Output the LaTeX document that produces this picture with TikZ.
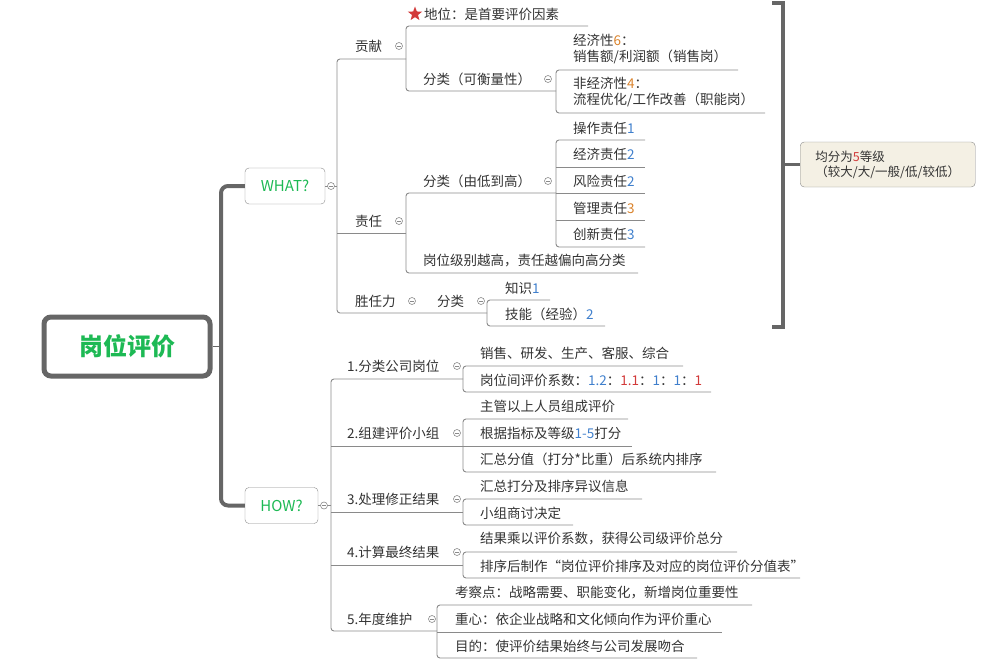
\documentclass[tikz,border=0pt]{standalone}
\usepackage{fontspec}
\setmainfont{Noto Sans CJK SC}
\usetikzlibrary{shapes.geometric}
\definecolor{txtc}{HTML}{333333}
\definecolor{linec}{HTML}{8A8A8A}
\definecolor{darkl}{HTML}{666666}
\definecolor{greenc}{HTML}{1DB954}
\definecolor{bluec}{HTML}{3F7FCC}
\definecolor{orangec}{HTML}{D9822B}
\definecolor{redc}{HTML}{D23A3A}
\definecolor{creamc}{HTML}{F4F0E4}
\newcommand{\nb}[1]{\textcolor{bluec}{#1}}
\newcommand{\no}[1]{\textcolor{orangec}{#1}}
\newcommand{\nr}[1]{\textcolor{redc}{#1}}
\tikzset{
  leaf/.style={anchor=west,inner sep=0pt,text=txtc,font=\fontsize{13.5}{16}\selectfont,align=left},
  branch/.style={draw=linec,line width=0.9pt,rounded corners=3pt},
  topbox/.style={draw=linec,rounded corners=4pt,text=greenc,font=\fontsize{15}{17}\selectfont,minimum height=36pt},
  colp/.pic={\draw[linec,fill=white,line width=0.6pt] (0,0) circle (3.5); \draw[linec,line width=0.6pt] (-2,0) -- (2,0);}
}
\begin{document}
\begin{tikzpicture}[x=1pt,y=-1pt]
\useasboundingbox (0,0) rectangle (1003,661);

% root and main branches
\node[draw=darkl,line width=5pt,rounded corners=7pt,minimum width=166pt,minimum height=59pt,text=greenc,font=\fontsize{24}{28}\selectfont\bfseries] (root) at (127,346.5) {岗位评价};
\node[topbox,minimum width=80pt] (what) at (285,186) {WHAT?};
\node[topbox,minimum width=73pt] (how) at (281.5,505.5) {HOW?};
\draw[darkl,line width=4pt,rounded corners=7pt] (what.west) -- (221,186) -- (221,505.5) -- (how.west);
\draw[darkl,line width=1pt] (root.east) -- (221,346.5);

% WHAT side
\draw[branch] (what.east) -- (337,186);
\draw[branch] (406,59) -- (337,59) -- (337,313) -- (487,313);
\draw[branch] (337,233) -- (406,233);
\pic at (331,186) {colp};

% 贡献
\node[leaf] (gx) at (355,46) {贡献};
\pic at (399,46) {colp};
\draw[branch] (588,26) -- (406,26) -- (406,91) -- (556,91);
\node[star,star points=5,star point ratio=2.4,fill=redc,inner sep=0pt,minimum size=15pt] (st) at (415,14) {};
\node[leaf] (dw) at (424,14) {地位：是首要评价因素};
\node[leaf] (fl1) at (423,79) {分类（可衡量性）};
\pic at (548,79) {colp};
\draw[branch] (738,70) -- (556,70) -- (556,113) -- (765,113);
\node[leaf] (jjx) at (573,49) {经济性\no{6}：\\销售额/利润额（销售岗）};
\node[leaf] (fjjx) at (573,92.5) {非经济性\no{4}：\\流程优化/工作改善（职能岗）};

% 责任
\node[leaf] (zr) at (355,221) {责任};
\pic at (399,221) {colp};
\draw[branch] (556,193) -- (406,193) -- (406,273) -- (638,273);
\node[leaf] (fl2) at (423,181) {分类（由低到高）};
\pic at (548,181) {colp};
\draw[branch] (645,140) -- (556,140) -- (556,247) -- (645,247);
\foreach \y in {167,193,220} \draw[branch] (556,\y) -- (645,\y);
\node[leaf] (r1) at (573,128) {操作责任\nb{1}};
\node[leaf] (r2) at (573,154.5) {经济责任\nb{2}};
\node[leaf] (r3) at (573,181) {风险责任\nb{2}};
\node[leaf] (r4) at (573,208) {管理责任\no{3}};
\node[leaf] (r5) at (573,234.5) {创新责任\nb{3}};
\node[leaf] (gw) at (423,261) {岗位级别越高，责任越偏向高分类};

% 胜任力
\node[leaf] (srl) at (355,301) {胜任力};
\pic at (412,301) {colp};
\node[leaf] (fl3) at (437,301) {分类};
\pic at (481,301) {colp};
\draw[branch] (550,300) -- (487,300) -- (487,326) -- (605,326);
\node[leaf] (zs) at (505,288) {知识\nb{1}};
\node[leaf] (jn) at (505,314) {技能（经验）\nb{2}};

% bracket and note
\draw[darkl,line width=3.5pt] (772,3) -- (783,3) -- (783,327) -- (772,327);
\draw[darkl,line width=3pt] (783,164) -- (800,164);
\node[draw=linec,fill=creamc,rounded corners=4pt,minimum width=175pt,minimum height=45pt,inner sep=6pt,anchor=west,text=txtc,font=\fontsize{12.5}{15}\selectfont,align=left] (note) at (800,164.5) {均分为\nr{5}等级\\（较大/大/一般/低/较低）\hfill};

% HOW side
\draw[branch] (how.east) -- (331,505.5);
\pic at (324,505.5) {colp};
\draw[branch] (463,379) -- (331,379) -- (331,631) -- (437,631);
\foreach \y in {446,512,565} \draw[branch] (331,\y) -- (463,\y);

\node[leaf] (h1) at (347,366) {1.分类公司岗位};
\pic at (457,366) {colp};
\draw[branch] (683,366) -- (463,366) -- (463,392) -- (711,392);
\node[leaf] (h11) at (480,353) {销售、研发、生产、客服、综合};
\node[leaf] (h12) at (480,380) {岗位间评价系数：\nb{1.2}：\nr{1.1}：\nb{1}：\nb{1}：\nr{1}};

\node[leaf] (h2) at (347,433) {2.组建评价小组};
\pic at (457,433) {colp};
\draw[branch] (628,419) -- (463,419) -- (463,472) -- (716,472);
\draw[branch] (463,446) -- (632,446);
\node[leaf] (h21) at (480,406) {主管以上人员组成评价};
\node[leaf] (h22) at (480,433) {根据指标及等级\nb{1-5}打分};
\node[leaf] (h23) at (480,459.5) {汇总分值（打分*比重）后系统内排序};

\node[leaf] (h3) at (347,499) {3.处理修正结果};
\pic at (457,499) {colp};
\draw[branch] (642,499) -- (463,499) -- (463,525) -- (573,525);
\node[leaf] (h31) at (480,486) {汇总打分及排序异议信息};
\node[leaf] (h32) at (480,513) {小组商讨决定};

\node[leaf] (h4) at (347,552) {4.计算最终结果};
\pic at (457,552) {colp};
\draw[branch] (737,552) -- (463,552) -- (463,578) -- (800,578);
\node[leaf] (h41) at (480,539) {结果乘以评价系数，获得公司级评价总分};
\node[leaf] (h42) at (480,566) {排序后制作“岗位评价排序及对应的岗位评价分值表”};

\node[leaf] (h5) at (347,619) {5.年度维护};
\pic at (432,619) {colp};
\draw[branch] (752,605) -- (437,605) -- (437,658) -- (697,658);
\draw[branch] (437,632) -- (722,632);
\node[leaf] (h51) at (455,592) {考察点：战略需要、职能变化，新增岗位重要性};
\node[leaf] (h52) at (455,619) {重心：依企业战略和文化倾向作为评价重心};
\node[leaf] (h53) at (455,646) {目的：使评价结果始终与公司发展吻合};
\end{tikzpicture}
\end{document}
